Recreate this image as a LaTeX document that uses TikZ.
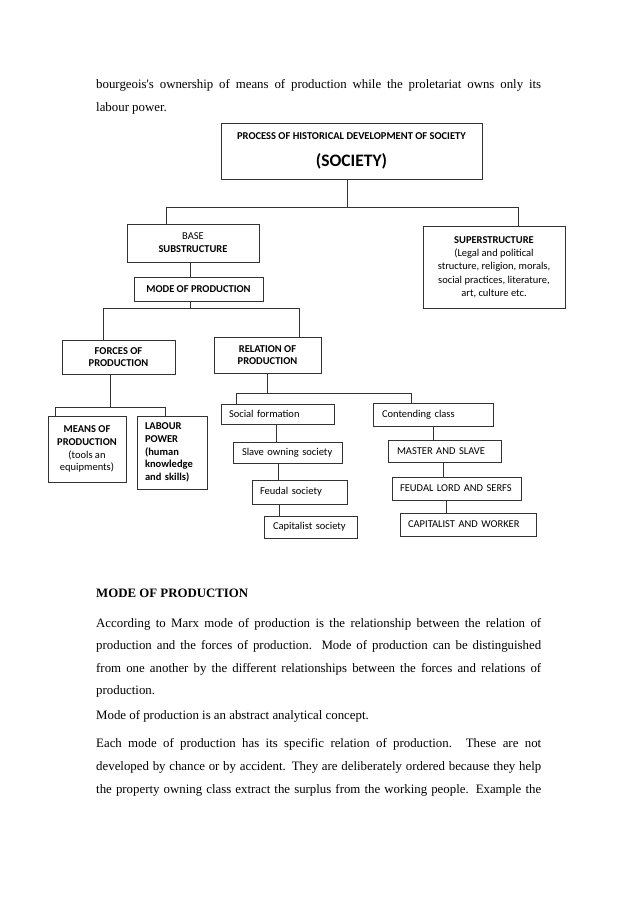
\documentclass[tikz,border=0pt]{standalone}
\usepackage{fontspec}
\setmainfont{Liberation Serif}[Ligatures=TeXOff]
\newfontfamily\calfont{Carlito}
\tikzset{
  box/.style={draw=black!80, line width=0.75pt, inner sep=0pt, align=center,
    font=\calfont\fontsize{10.5}{12.8}\selectfont},
  ln/.style={draw=black!80, line width=0.75pt},
  body/.style={anchor=base west, inner sep=0pt, font=\fontsize{12.85}{15}\selectfont},
}
\newcommand{\jline}[1]{\makebox[445pt][s]{#1}}
\begin{document}
\begin{tikzpicture}[x=1pt,y=-1pt]
\fill[white] (0,0) rectangle (638,902);
\useasboundingbox (0,0) rectangle (638,902);

% body text top
\node[body] (t1) at (96,88) {\jline{bourgeois's ownership of means of production while the proletariat owns only its}};
\node[body] (t2) at (96,111) {labour power.};

% diagram boxes
\node[box, minimum width=261pt, minimum height=56pt] (society) at (351.5,151)
  {\textbf{PROCESS OF HISTORICAL DEVELOPMENT OF SOCIETY}\\[13pt]{\fontsize{17.5}{20}\selectfont\textbf{(SOCIETY)}}};
\node[box, minimum width=132pt, minimum height=38pt] (base) at (193,243)
  {BASE\\\textbf{SUBSTRUCTURE}};
\node[box, minimum width=129pt, minimum height=24pt] (mode) at (198.5,289)
  {\textbf{MODE OF PRODUCTION}};
\node[box, minimum width=142pt, minimum height=82pt, font=\calfont\fontsize{10.5}{13.3}\selectfont] (super) at (494,267)
  {\textbf{SUPERSTRUCTURE}\\(Legal and political\\structure, religion, morals,\\social practices, literature,\\art, culture etc.};
\node[box, minimum width=113pt, minimum height=34pt] (forces) at (118.5,357)
  {\textbf{FORCES OF}\\\textbf{PRODUCTION}};
\node[box, minimum width=107pt, minimum height=36pt] (relation) at (267.5,355)
  {\textbf{RELATION OF}\\\textbf{PRODUCTION}};
\node[box, minimum width=78pt, minimum height=66pt] (means) at (87,449)
  {\textbf{MEANS OF}\\\textbf{PRODUCTION}\\(tools an\\equipments)};
\node[box, minimum width=70pt, minimum height=73pt, text width=54pt, align=left] (labour) at (172,452.5)
  {\textbf{LABOUR}\\\textbf{POWER}\\\textbf{(human}\\\textbf{knowledge}\\\textbf{and skills)}};

\node[box, minimum width=113pt, minimum height=20pt, text width=97pt, align=left] (social) at (277.5,414) {Social formation};
\node[box, minimum width=109pt, minimum height=21pt, text width=91pt, align=left] (slave) at (287.5,452.5) {Slave owning society};
\node[box, minimum width=95pt, minimum height=24pt, text width=79pt, align=left] (feudal) at (299.5,492) {Feudal society};
\node[box, minimum width=93pt, minimum height=22pt, text width=75pt, align=left] (capsoc) at (310.5,527) {Capitalist society};

\node[box, minimum width=120pt, minimum height=23pt, text width=102pt, align=left] (contend) at (433,414.5) {Contending class};
\node[box, minimum width=113pt, minimum height=22pt, text width=95pt, align=left] (master) at (444.5,451) {MASTER AND SLAVE};
\node[box, minimum width=129pt, minimum height=23pt, text width=113pt, align=left] (lord) at (456.5,488.5) {FEUDAL LORD AND SERFS};
\node[box, minimum width=136pt, minimum height=23pt, text width=120pt, align=left] (worker) at (468,524.5) {CAPITALIST AND WORKER};

% connectors
\coordinate (hb) at (166,207);
\coordinate (hs) at (518,207);
\draw[ln] ([xshift=-4.5pt]society.south) -- ([xshift=-4.5pt]society.south |- hb);
\draw[ln] (hb |- base.north) -- (hb) -- (hs) -- (hs |- super.north);

\draw[ln] ([xshift=-3pt]base.south) -- ([xshift=-3pt]base.south |- mode.north);
\coordinate (hf) at (103,308);
\coordinate (hr) at (299,308);
\draw[ln] ([xshift=-8.5pt]mode.south) -- ([xshift=-8.5pt]mode.south |- hf);
\draw[ln] (hf |- forces.north) -- (hf) -- (hr) -- (hr |- relation.north);

\coordinate (hm) at (55,407);
\coordinate (hl) at (165,407);
\draw[ln] ([xshift=-8.5pt]forces.south) -- ([xshift=-8.5pt]forces.south |- hm);
\draw[ln] (hm |- means.north) -- (hm) -- (hl) -- (hl |- labour.north);

\coordinate (hsf) at (236,393);
\coordinate (hcc) at (411,393);
\draw[ln] (relation.south) -- (relation.south |- hsf);
\draw[ln] (hsf |- social.north) -- (hsf) -- (hcc) -- (hcc |- contend.north);

\draw[ln] ([xshift=-1.5pt]social.south) -- ([xshift=-1.5pt]social.south |- slave.north);
\draw[ln] ([xshift=-9.5pt]slave.south) -- ([xshift=-9.5pt]slave.south |- feudal.north);
\draw[ln] ([xshift=-20.5pt]feudal.south) -- ([xshift=-20.5pt]feudal.south |- capsoc.north);
\draw[ln] (contend.south) -- (contend.south |- master.north);
\draw[ln] ([xshift=-1.5pt]master.south) -- ([xshift=-1.5pt]master.south |- lord.north);
\draw[ln] ([xshift=-10.5pt]lord.south) -- ([xshift=-10.5pt]lord.south |- worker.north);

% body text bottom
\node[body] (h1) at (96,597) {\textbf{MODE OF PRODUCTION}};
\node[body] (p1) at (96,627) {\jline{According to Marx mode of production is the relationship between the relation of}};
\node[body] (p2) at (96,649) {\jline{production and the forces of production. Mode of production can be distinguished}};
\node[body] (p3) at (96,672) {\jline{from one another by the different relationships between the forces and relations of}};
\node[body] (p4) at (96,694) {production.};
\node[body] (p5) at (96,719) {Mode of production is an abstract analytical concept.};
\node[body] (p6) at (96,747) {\jline{Each mode of production has its specific relation of production. These are not}};
\node[body] (p7) at (96,770) {\jline{developed by chance or by accident. They are deliberately ordered because they help}};
\node[body] (p8) at (96,793) {\jline{the property owning class extract the surplus from the working people. Example the}};
\end{tikzpicture}
\end{document}
